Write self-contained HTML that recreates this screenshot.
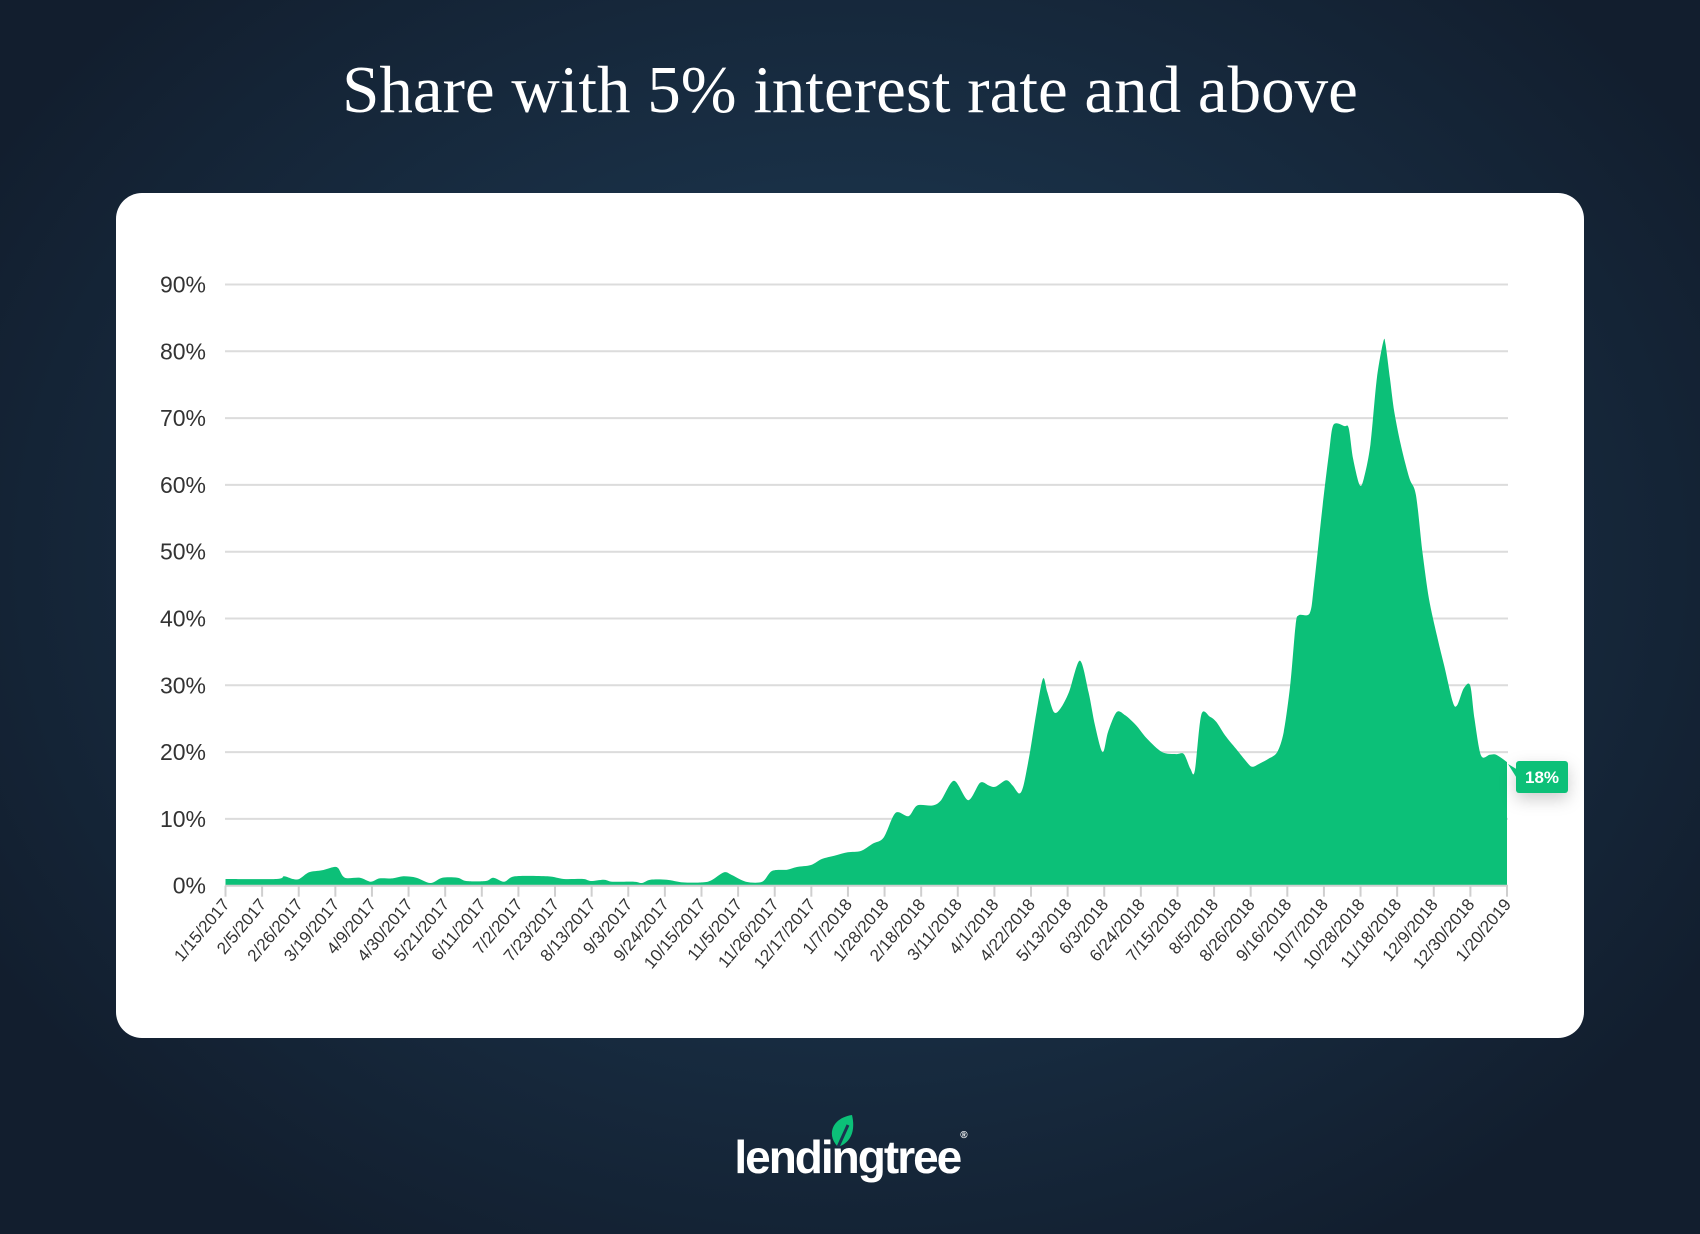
<!DOCTYPE html>
<html><head><meta charset="utf-8">
<style>
html,body{margin:0;padding:0;}
html{background:#121e2e;}
body{width:1700px;height:1234px;overflow:hidden;position:relative;
background:radial-gradient(ellipse 1000px 800px at 850px 560px,#20405c 0%,#1a3249 40%,#121e2e 100%);
font-family:"Liberation Sans",sans-serif;}
.title{position:absolute;left:0;width:1700px;top:52px;text-align:center;color:#fff;
font-family:"Liberation Serif",serif;font-size:67px;}
.card{position:absolute;left:116px;top:193px;width:1468px;height:845px;background:#fff;border-radius:26px;}
svg{position:absolute;left:0;top:0;}
.logo{position:absolute;left:0;width:1700px;top:1130px;text-align:center;color:#fff;font-size:46px;font-weight:bold;letter-spacing:-2px;}
</style></head><body>
<div class="title">Share with 5% interest rate and above</div>
<div class="card"></div>
<svg id="s" width="1700" height="1234" xmlns="http://www.w3.org/2000/svg"></svg>
<div class="logo">lendingtree<span style="font-size:10px;vertical-align:top">®</span></div>
<svg width="1700" height="1234" style="pointer-events:none">
<path d="M838 1147 C826 1135 832 1118 852 1115 C856 1132 850 1143 838 1147 Z" fill="#0cc078"/>
<path d="M838 1147 L848 1125" stroke="#1a3350" stroke-width="3"/>
</svg>
<script>
var s=document.getElementById('s'),h='';
var X0=225.5,X1=1507,B=885.7,U=6.68;
function yv(v){return B-v*U;}
for(var i=0;i<=9;i++){var y=yv(i*10);
 if(i>0)h+='<line x1="225" x2="1508" y1="'+y+'" y2="'+y+'" stroke="#dcdcdc" stroke-width="2"/>';
 h+='<text x="206" y="'+(y+8)+'" text-anchor="end" font-size="23" fill="#333" font-family="Liberation Sans,sans-serif">'+(i*10)+'%</text>';}
var P=[[208,1],[255,1],[262,1.4],[270,1],[276,1],[285,2],[297,2.3],[308,2.8],[312,2.6],[318,1.2],[332,1.2],[342,0.6],[350,1.1],[362,1.1],[372,1.4],[384,1.2],[397,0.4],[408,1.2],[422,1.2],[430,0.7],[448,0.7],[455,1.2],[465,0.6],[475,1.4],[505,1.4],[520,1.0],[538,1.0],[545,0.7],[557,0.9],[565,0.6],[585,0.6],[592,0.4],[600,0.9],[615,0.9],[630,0.5],[648,0.5],[656,0.8],[668,2.0],[675,1.6],[688,0.6],[703,0.6],[712,2.2],[726,2.4],[735,2.8],[748,3.1],[758,4.0],[770,4.5],[782,5.0],[794,5.2],[805,6.3],[815,7.2],[826,10.9],[838,10.4],[846,12.0],[860,12.0],[868,12.8],[880,15.7],[893,12.8],[904,15.4],[912,15.0],[918,14.8],[928,15.8],[934,15.0],[940,13.8],[944,15],[950,20],[956,26],[962,31],[966,29],[972,26],[978,26.5],[986,29],[996,33.7],[1004,29],[1010,24],[1017,20],[1022,23],[1030,26],[1038,25.5],[1048,24],[1058,22],[1072,20],[1085,19.7],[1092,19.7],[1098,17.5],[1102,17.2],[1108,25.6],[1116,25.3],[1122,24.5],[1130,22.5],[1140,20.5],[1150,18.5],[1155,17.8],[1162,18.3],[1170,19],[1178,20],[1184,23],[1190,30],[1195,39],[1198,40.5],[1208,40.8],[1212,45],[1220,57],[1226,65],[1230,69],[1240,68.8],[1244,68.5],[1248,64],[1254,60],[1258,61],[1264,66],[1270,76],[1276,81.5],[1278,81],[1282,76],[1286,71],[1292,66],[1300,61],[1306,58.5],[1312,50],[1318,43],[1326,37],[1332,33],[1340,27.5],[1344,27],[1350,29.5],[1356,30],[1360,25],[1366,19.5],[1374,19.6],[1380,19.6],[1390,18.5]];
var Q=P.map(function(p){return [X0+(p[0]-208)*(X1-X0)/(1390-208),yv(p[1])];});
var d='M'+X0+' '+B+' L'+Q[0][0]+' '+Q[0][1];
for(var i=0;i<Q.length-1;i++){var p0=Q[i>0?i-1:i],p1=Q[i],p2=Q[i+1],p3=Q[i+2<Q.length?i+2:i+1],t=0.15;
 var c1x=p1[0]+(p2[0]-p0[0])*t,c1y=p1[1]+(p2[1]-p0[1])*t,c2x=p2[0]-(p3[0]-p1[0])*t,c2y=p2[1]-(p3[1]-p1[1])*t;
 c1y=Math.min(c1y,B);c2y=Math.min(c2y,B);
 d+=' C'+c1x.toFixed(1)+' '+c1y.toFixed(1)+' '+c2x.toFixed(1)+' '+c2y.toFixed(1)+' '+p2[0].toFixed(1)+' '+p2[1].toFixed(1);}
d+=' L'+X1+' '+B+' Z';
h+='<path d="'+d+'" fill="#0cc078"/>';
h+='<line x1="225" x2="1508" y1="'+B+'" y2="'+B+'" stroke="#cfcfcf" stroke-width="2"/>';
var labs=["1/15/2017","2/5/2017","2/26/2017","3/19/2017","4/9/2017","4/30/2017","5/21/2017","6/11/2017","7/2/2017","7/23/2017","8/13/2017","9/3/2017","9/24/2017","10/15/2017","11/5/2017","11/26/2017","12/17/2017","1/7/2018","1/28/2018","2/18/2018","3/11/2018","4/1/2018","4/22/2018","5/13/2018","6/3/2018","6/24/2018","7/15/2018","8/5/2018","8/26/2018","9/16/2018","10/7/2018","10/28/2018","11/18/2018","12/9/2018","12/30/2018","1/20/2019"];
for(var i=0;i<labs.length;i++){var x=X0+i*(X1-X0)/35;
 h+='<line x1="'+x+'" x2="'+x+'" y1="'+B+'" y2="'+(B+11)+'" stroke="#cfcfcf" stroke-width="2"/>';
 h+='<text transform="translate('+(x+5)+','+(B+19)+') rotate(-50)" text-anchor="end" font-size="17" fill="#333" font-family="Liberation Sans,sans-serif">'+labs[i]+'</text>';}
h+='<rect x="1516" y="761" width="52" height="32" rx="3" fill="#0cc078" style="filter:drop-shadow(0 6px 8px rgba(0,0,0,0.2))"/>';
h+='<path d="M1508 764 L1518 770 L1518 780 Z" fill="#0cc078"/>';
h+='<text x="1542" y="783" text-anchor="middle" font-size="17" font-weight="bold" fill="#fff" font-family="Liberation Sans,sans-serif">18%</text>';
s.innerHTML=h;
</script>
</body></html>
